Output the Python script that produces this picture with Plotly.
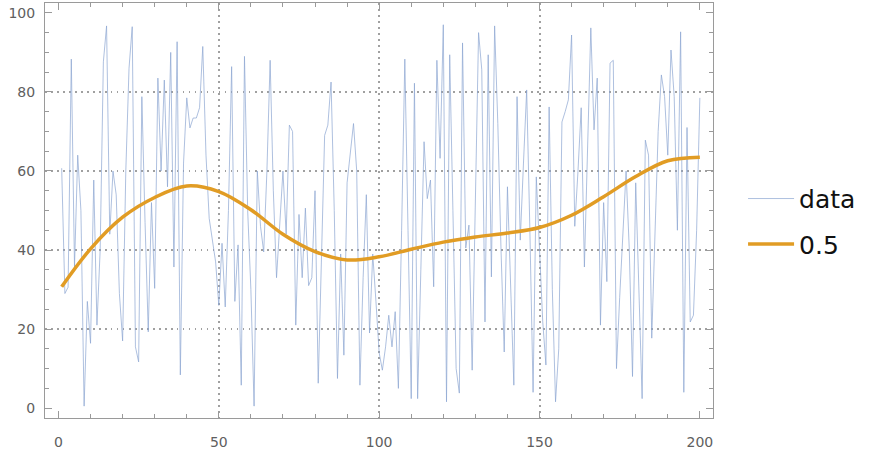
import plotly.graph_objects as go

x_data = list(range(1, 201))
y_data = [
    60.7, 29, 30.6, 88.3, 35.7, 64, 50, 0.5, 27, 16.4,
    57.7, 21, 40, 87.6, 96.7, 44, 60, 54, 29, 17,
    60, 86, 96.5, 15.5, 11.7, 78.8, 47, 19.3, 52, 30.3,
    83.5, 60, 83, 56, 90, 35.7, 92.7, 8.4, 62, 78.5,
    70.9, 73.4, 73.4, 76, 91.5, 64, 48, 43, 37, 26,
    41.7, 25.6, 50, 86.4, 27, 41.3, 5.8, 89, 50, 30,
    0.5, 60, 46, 39.5, 60, 88, 55, 33, 48, 60,
    44, 71.6, 70, 21, 49, 33, 50.6, 31, 33, 55,
    6.3, 40, 69, 71.6, 82.5, 50, 7.5, 39, 13.4, 57,
    64, 72, 60, 5.8, 33, 54, 19, 39, 27, 14,
    9.6, 15.5, 23.5, 15.5, 24.4, 5, 45, 88.3, 45, 2.4,
    82.2, 2.4, 35, 67.4, 53, 57.7, 30.7, 88, 63.2, 97,
    1.6, 89.4, 50, 10, 3.8, 92.4, 40.5, 46.3, 9.6, 52,
    95, 85.6, 21.8, 89.4, 33.2, 96.7, 72, 40, 14.2, 56,
    30, 5.8, 78.8, 42.5, 62, 80.5, 45, 4, 58.5, 40,
    22, 10.9, 76.2, 30, 1.6, 15, 72.4, 75, 78, 94.4,
    46, 60, 76, 35.7, 65, 96.2, 70.4, 83.5, 21, 52,
    32, 87.3, 88, 10, 28, 45, 60, 40, 8, 57,
    30, 2.4, 67.8, 64, 17.7, 45, 70, 84.3, 78.8, 64,
    90.6, 78.8, 45, 95.2, 4, 71, 21.8, 23.5, 45, 78.5,
]

x_fit = [1, 10, 20, 30, 40, 50, 60, 70, 80, 90, 100,
         110, 120, 130, 140, 150, 160, 170, 180, 190, 200]
y_fit = [30.7, 40.3, 48.3, 53.3, 56.2, 54.8, 50.2, 44.0, 39.6, 37.5, 38.3,
         40.2, 42.0, 43.3, 44.3, 45.7, 48.8, 53.5, 58.6, 62.6, 63.5]

x_ticks = [0, 50, 100, 150, 200]
y_ticks = [0, 20, 40, 60, 80, 100]
x_grid = [50, 100, 150]
y_grid = [20, 40, 60, 80]

x_range = [-4.2, 204.1]
y_range = [-2.5, 102.5]

frame = "#9a9a9a"
label_col = "#606060"
grid_col = "#a0a0a0"
font_fam = "DejaVu Sans"

fig = go.Figure()

fig.add_trace(go.Scatter(
    x=x_data, y=y_data, mode="lines", name="data",
    line=dict(color="rgba(140,165,210,0.7)", width=1),
    legendgroup="a",
))
fig.add_trace(go.Scatter(
    x=x_fit, y=y_fit, mode="lines", name="0.5",
    line=dict(color="#E19C24", width=3.5, shape="spline", smoothing=1.0),
    legendgroup="b",
))
# helper trace for grid axes
fig.add_trace(go.Scatter(x=[None], y=[None], xaxis="x2", yaxis="y2",
                         showlegend=False, hoverinfo="skip"))

fig.update_layout(
    width=870, height=450,
    margin=dict(l=45, r=157, t=3, b=32),
    paper_bgcolor="white", plot_bgcolor="white",
    font=dict(family=font_fam, color=label_col, size=14),
    xaxis=dict(
        range=x_range, tickvals=x_ticks, showgrid=False, zeroline=False,
        showline=True, linecolor=frame, linewidth=1, mirror="ticks",
        ticks="inside", ticklen=7, tickcolor=frame, tickwidth=1,
        minor=dict(dtick=10, tick0=0, ticks="inside", ticklen=4, tickcolor=frame),
        tickfont=dict(size=14, color=label_col), ticklabelstandoff=11,
        automargin=False,
    ),
    yaxis=dict(
        range=y_range, tickvals=y_ticks, showgrid=False, zeroline=False,
        showline=True, linecolor=frame, linewidth=1, mirror="ticks",
        ticks="inside", ticklen=7, tickcolor=frame, tickwidth=1,
        minor=dict(dtick=5, tick0=0, ticks="inside", ticklen=4, tickcolor=frame),
        tickfont=dict(size=14, color=label_col), ticklabelstandoff=6,
        automargin=False,
    ),
    xaxis2=dict(
        overlaying="x", range=x_range, tickvals=x_grid, showgrid=True,
        griddash="1.5px,4.5px", gridcolor=grid_col, gridwidth=1.5,
        showticklabels=False, ticks="", showline=False, zeroline=False,
        automargin=False,
    ),
    yaxis2=dict(
        overlaying="y", range=y_range, tickvals=y_grid, showgrid=True,
        griddash="1.5px,4.5px", gridcolor=grid_col, gridwidth=1.5,
        showticklabels=False, ticks="", showline=False, zeroline=False,
        automargin=False,
    ),
    legend=dict(
        x=1.045, y=0.474, xanchor="left", yanchor="middle",
        font=dict(family=font_fam, size=25, color="#111111"),
        tracegroupgap=10, traceorder="grouped", itemwidth=46,
        bgcolor="rgba(0,0,0,0)",
    ),
)

fig.write_html(
    "out.html",
    config={"displayModeBar": False},
    post_script="document.body.style.margin='0px';document.body.style.padding='0px';",
)
